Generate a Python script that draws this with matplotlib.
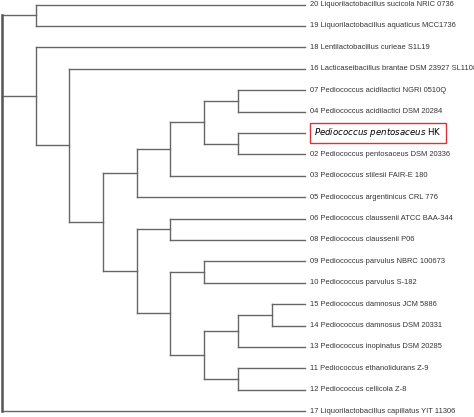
import matplotlib
matplotlib.use("Agg")
import matplotlib.pyplot as plt

labels = [
    "20 Liquorilactobacillus sucicola NRIC 0736",
    "19 Liquorilactobacillus aquaticus MCC1736",
    "18 Lentilactobacillus curieae S1L19",
    "16 Lacticaseibacillus brantae DSM 23927 SL1108",
    "07 Pediococcus acidilactici NGRI 0510Q",
    "04 Pediococcus acidilactici DSM 20284",
    "HK",
    "02 Pediococcus pentosaceus DSM 20336",
    "03 Pediococcus stilesii FAIR-E 180",
    "05 Pediococcus argentinicus CRL 776",
    "06 Pediococcus claussenii ATCC BAA-344",
    "08 Pediococcus claussenii P06",
    "09 Pediococcus parvulus NBRC 100673",
    "10 Pediococcus parvulus S-182",
    "15 Pediococcus damnosus JCM 5886",
    "14 Pediococcus damnosus DSM 20331",
    "13 Pediococcus inopinatus DSM 20285",
    "11 Pediococcus ethanolidurans Z-9",
    "12 Pediococcus cellicola Z-8",
    "17 Liquorilactobacillus capillatus YIT 11306",
]
# tree topology (leaf indices)
tree = [[0, 1],
        [2, [3, [[[[[4, 5], [6, 7]], 8], 9],
                 [[10, 11], [[12, 13], [[[14, 15], 16], [17, 18]]]]]]],
        19]

LEAF_LEVEL = 9
X0, DX = 2, 33.7
Y0, DY = 4.5, 21.4
col = "#666666"

fig = plt.figure(figsize=(4.74, 4.17), dpi=100)
ax = fig.add_axes([0, 0, 1, 1])
ax.set_xlim(0, 474)
ax.set_ylim(417, 0)
ax.axis("off")

def px(level):
    return X0 + level * DX

def draw(node, level):
    if isinstance(node, int):
        return Y0 + node * DY
    ys = []
    for ch in node:
        y = draw(ch, level + 1) if not isinstance(ch, int) else Y0 + ch * DY
        xe = px(LEAF_LEVEL) if isinstance(ch, int) else px(level + 1)
        ax.plot([px(level), xe], [y, y], color=col, lw=1)
        ys.append(y)
    ax.plot([px(level), px(level)], [min(ys), max(ys)],
            color="#555555" if level == 0 else col, lw=1.8 if level == 0 else 1)
    return (min(ys) + max(ys)) / 2

draw(tree, 0)

for i, lab in enumerate(labels):
    y = Y0 + i * DY
    if lab == "HK":
        ax.text(px(LEAF_LEVEL) + 9, y, r"$\mathbf{\mathit{Pediococcus\ pentosaceus}}$ HK",
                fontsize=6.2, va="center", ha="left", color="black",
                family="DejaVu Sans",
                bbox=dict(boxstyle="square,pad=0.45", fc="white", ec="#d9343a", lw=1))
    else:
        ax.text(px(LEAF_LEVEL) + 5, y, lab, fontsize=5.4, va="center", ha="left",
                color="#333333", family="Liberation Sans")

fig.savefig("out.png", dpi=100)
